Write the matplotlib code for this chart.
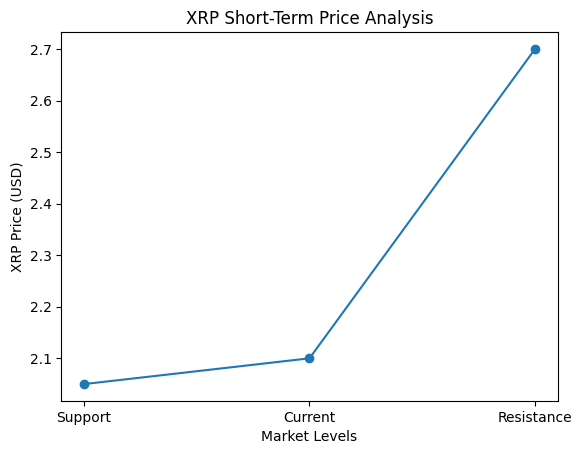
import matplotlib
matplotlib.use("Agg")
import matplotlib.pyplot as plt

levels = ["Support", "Current", "Resistance"]
prices = [2.05, 2.10, 2.70]

fig, ax = plt.subplots(figsize=(5.82, 4.55), dpi=100)
fig.subplots_adjust(left=0.1055, right=0.958, top=0.929, bottom=0.119)

ax.plot(levels, prices, marker="o")
ax.set_title("XRP Short-Term Price Analysis")
ax.set_xlabel("Market Levels")
ax.set_ylabel("XRP Price (USD)")

fig.savefig("out.png", dpi=100)
